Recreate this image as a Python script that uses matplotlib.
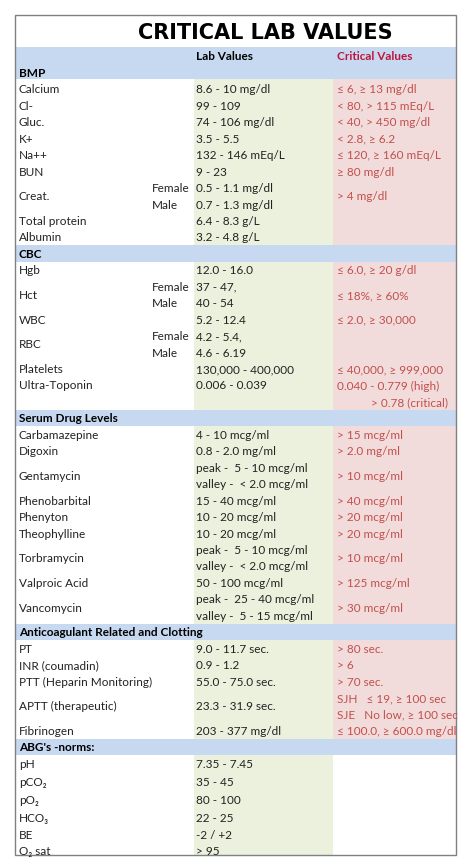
import matplotlib
matplotlib.use("Agg")
import matplotlib.pyplot as plt
from matplotlib.patches import Rectangle

plt.rcParams['font.family'] = ['Lato', 'DejaVu Sans']

title = "CRITICAL LAB VALUES"
col_headers = ["Lab Values", "Critical Values"]
sections = [(1, "BMP"), (12, "CBC"), (22, "Serum Drug Levels"),
            (35, "Anticoagulant Related and Clotting"), (42, "ABG's -norms:")]
names = [(2, "Calcium"), (3, "Cl-"), (4, "Gluc."), (5, "K+"), (6, "Na++"), (7, "BUN"),
         (8.5, "Creat."), (10, "Total protein"), (11, "Albumin"),
         (13, "Hgb"), (14.5, "Hct"), (16, "WBC"), (17.5, "RBC"), (19, "Platelets"),
         (20, "Ultra-Toponin"),
         (23, "Carbamazepine"), (24, "Digoxin"), (25.5, "Gentamycin"), (27, "Phenobarbital"),
         (28, "Phenyton"), (29, "Theophylline"), (30.5, "Torbramycin"), (32, "Valproic Acid"),
         (33.5, "Vancomycin"),
         (36, "PT"), (37, "INR (coumadin)"), (38, "PTT (Heparin Monitoring)"),
         (39.5, "APTT (therapeutic)"), (41, "Fibrinogen"),
         (43, "pH"), (44.1, "pCO₂"), (45.2, "pO₂"), (46.3, "HCO₃"), (47.3, "BE"), (48.3, "O₂ sat")]
sublabels = [(8, "Female"), (9, "Male"), (14, "Female"), (15, "Male"), (17, "Female"), (18, "Male")]
lab_values = [(2, "8.6 - 10 mg/dl"), (3, "99 - 109"), (4, "74 - 106 mg/dl"), (5, "3.5 - 5.5"),
              (6, "132 - 146 mEq/L"), (7, "9 - 23"), (8, "0.5 - 1.1 mg/dl"), (9, "0.7 - 1.3 mg/dl"),
              (10, "6.4 - 8.3 g/L"), (11, "3.2 - 4.8 g/L"),
              (13, "12.0 - 16.0"), (14, "37 - 47,"), (15, "40 - 54"), (16, "5.2 - 12.4"),
              (17, "4.2 - 5.4,"), (18, "4.6 - 6.19"), (19, "130,000 - 400,000"), (20, "0.006 - 0.039"),
              (23, "4 - 10 mcg/ml"), (24, "0.8 - 2.0 mg/ml"), (25, "peak -  5 - 10 mcg/ml"),
              (26, "valley -  < 2.0 mcg/ml"), (27, "15 - 40 mcg/ml"), (28, "10 - 20 mcg/ml"),
              (29, "10 - 20 mcg/ml"), (30, "peak -  5 - 10 mcg/ml"), (31, "valley -  < 2.0 mcg/ml"),
              (32, "50 - 100 mcg/ml"), (33, "peak -  25 - 40 mcg/ml"), (34, "valley -  5 - 15 mcg/ml"),
              (36, "9.0 - 11.7 sec."), (37, "0.9 - 1.2"), (38, "55.0 - 75.0 sec."),
              (39.5, "23.3 - 31.9 sec."), (41, "203 - 377 mg/dl"),
              (43, "7.35 - 7.45"), (44.1, "35 - 45"), (45.2, "80 - 100"), (46.3, "22 - 25"),
              (47.3, "-2 / +2"), (48.3, "> 95")]
critical_values = [(2, "≤ 6, ≥ 13 mg/dl"), (3, "< 80, > 115 mEq/L"), (4, "< 40, > 450 mg/dl"),
                   (5, "< 2.8, ≥ 6.2"), (6, "≤ 120, ≥ 160 mEq/L"), (7, "≥ 80 mg/dl"),
                   (8.5, "> 4 mg/dl"),
                   (13, "≤ 6.0, ≥ 20 g/dl"), (14.5, "≤ 18%, ≥ 60%"), (16, "≤ 2.0, ≥ 30,000"),
                   (19, "≤ 40,000, ≥ 999,000"), (20, "0.040 - 0.779 (high)"),
                   (23, "> 15 mcg/ml"), (24, "> 2.0 mg/ml"), (25.5, "> 10 mcg/ml"),
                   (27, "> 40 mcg/ml"), (28, "> 20 mcg/ml"), (29, "> 20 mcg/ml"),
                   (30.5, "> 10 mcg/ml"), (32, "> 125 mcg/ml"), (33.5, "> 30 mcg/ml"),
                   (36, "> 80 sec."), (37, "> 6"), (38, "> 70 sec."),
                   (39, "SJH   ≤ 19, ≥ 100 sec"), (40, "SJE   No low, ≥ 100 sec"),
                   (41, "≤ 100.0, ≥ 600.0 mg/dl")]
critical_extra = [(21, "> 0.78 (critical)")]

W, H = 474, 862
fig = plt.figure(figsize=(W / 100, H / 100), dpi=100)
ax = fig.add_axes([0, 0, 1, 1])
ax.set_xlim(0, W)
ax.set_ylim(H, 0)
ax.axis('off')

y0, h = 57.0, 16.45
L, R, T, B = 15, 456, 16, 856
XG, XR = 194, 333
def ys(s):
    return y0 + s * h

blue, green, red = "#c6d9f0", "#ebf1dd", "#f2dcdb"
ax.add_patch(Rectangle((XG, 80), XR - XG, B - 80, color=green, lw=0))
ax.add_patch(Rectangle((XR, 80), R - XR, ys(41) + h / 2 - 80, color=red, lw=0))
ax.add_patch(Rectangle((L, 48), R - L, 32, color=blue, lw=0))
for s, t in sections[1:]:
    ax.add_patch(Rectangle((L, ys(s) - h / 2), R - L, h, color=blue, lw=0))
ax.add_patch(Rectangle((L, T), R - L, B - T, fill=False, ec="#808080", lw=1))

fs = 8.5
ax.text(265, 33, title, ha='center', va='center', fontsize=15, fontweight='heavy',
        family=['DejaVu Sans'])
ax.text(196, ys(0), col_headers[0], fontsize=fs, fontweight='bold', va='center')
ax.text(337, ys(0), col_headers[1], fontsize=fs, fontweight='bold', va='center', color="#c0143c")
for s, t in sections:
    ax.text(19, ys(s), t, fontsize=fs, fontweight='bold', va='center')
for s, t in names:
    ax.text(19, ys(s), t, fontsize=fs, va='center', color="#222222")
for s, t in sublabels:
    ax.text(152, ys(s), t, fontsize=fs, va='center', color="#222222")
for s, t in lab_values:
    ax.text(196, ys(s), t, fontsize=fs, va='center', color="#222222")
for s, t in critical_values:
    ax.text(337, ys(s), t, fontsize=fs, va='center', color="#c0504d")
for s, t in critical_extra:
    ax.text(448, ys(s), t, fontsize=fs, va='center', ha='right', color="#c0504d")

fig.savefig("out.png", dpi=100)
